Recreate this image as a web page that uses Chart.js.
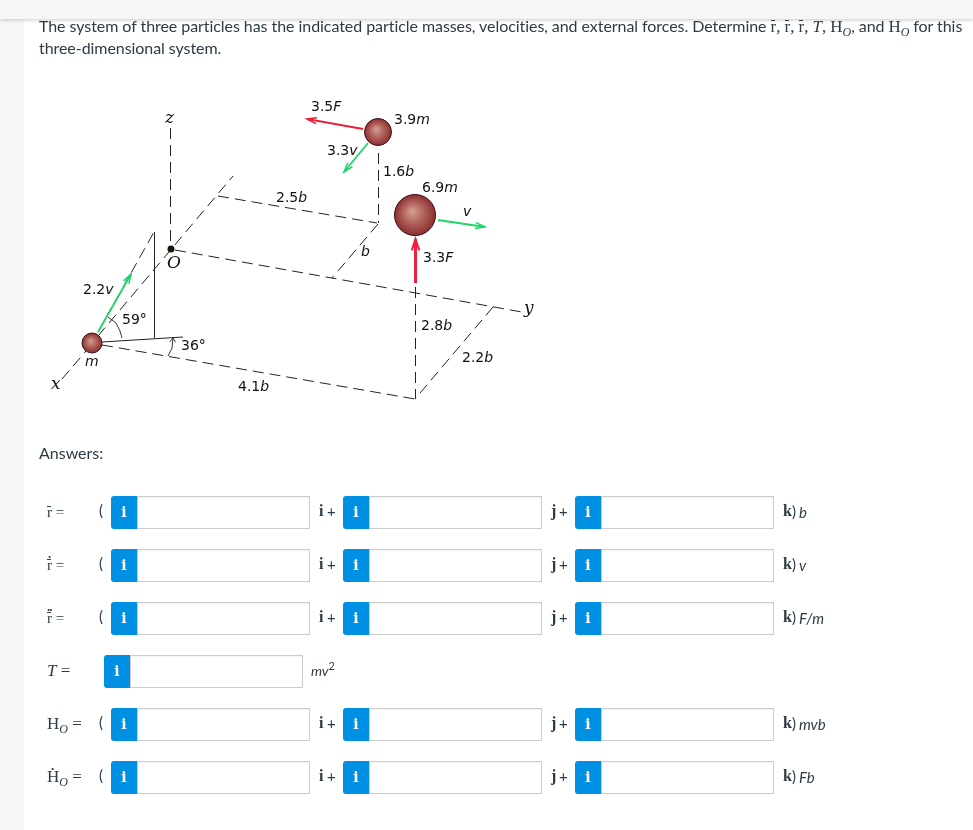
<!DOCTYPE html>
<html>
<head>
<meta charset="utf-8">
<title>Three particle system</title>
<script src="https://cdn.jsdelivr.net/npm/chart.js@4/dist/chart.umd.min.js"></script>
<style>
html, body { margin: 0; padding: 0; background: #fff; }
body { position: relative; width: 973px; height: 830px; overflow: hidden; font-family: Lato, sans-serif; color: #2d3b45; }
#strip { position: absolute; left: 0; top: 0; width: 24px; height: 830px; background: #f8f8f8; }
#topbar { position: absolute; left: 0; top: 0; width: 973px; height: 19px; background: #f6f6f6; box-shadow: 0 1px 4px rgba(0,0,0,.22); }
#diagram { position: absolute; left: 0; top: 0; }
.t { position: absolute; white-space: nowrap; }
#q1 { left: 39px; top: 15px; font-size: 16px; line-height: 22px; letter-spacing: -0.06px; }
#q2 { left: 39px; top: 37px; font-size: 16px; line-height: 22px; letter-spacing: -0.06px; }
.m { font-family: "Liberation Serif", serif; font-size: 17px; }
.i { font-style: italic; }
sub { font-size: 12px; line-height: 0; font-style: italic; font-family: "Liberation Serif", serif; }
.o { position: relative; display: inline-block; }
.o::before { content: ""; position: absolute; left: 0; right: 1px; top: 4px; border-top: 1px solid #2d3b45; }
.d1::after, .d2::after { position: absolute; left: 0; font-size: 13px; font-weight: bold; line-height: 10px; }
.d1::after { content: "."; left: 1px; top: -6px; }
.d2::after { content: ".."; letter-spacing: -1px; top: -6px; }
.dh { position: relative; display: inline-block; }
.dh::after { content: "."; position: absolute; left: 4px; top: -6px; font-size: 13px; font-weight: bold; line-height: 10px; }
.btn { position: absolute; width: 26px; height: 33px; background: #0090e3; border-radius: 3px 0 0 3px; color: #fff; font: bold 14px/33px "DejaVu Serif", serif; text-align: center; }
.box { position: absolute; height: 31px; box-sizing: content-box; border: 1px solid #ccc; background: #fff; box-shadow: inset 0 1px 2px rgba(0,0,0,.06); }
.unit { font-family: "Liberation Serif", serif; font-size: 16px; }
</style>
</head>
<body>
<div id="strip"></div>
<canvas id="diagram" width="973" height="830"></canvas>
<div id="topbar"></div>
<div class="t" id="q1">The system of three particles has the indicated particle masses, velocities, and external forces. Determine <span class="m"><span class="o">r</span>, <span class="o">r</span>, <span class="o">r</span>, <span class="i">T</span>, H<sub>O</sub></span>, and <span class="m">H<sub>O</sub></span> for this</div>
<div class="t" id="q2">three-dimensional system.</div>
<div class="t" style="left:39px;top:443px;font-size:16px;line-height:20px">Answers:</div>
<div id="form"></div>
<script>
// diagram lines, in picture coordinates
const dashedLines = [
	[[170.5, 128], [170.5, 245]],
	[[62, 379], [86, 351]],
	[[98, 336], [233, 176]],
	[[98, 332], [154, 232]],
	[[102, 345], [415, 399]],
	[[175, 250], [522, 312]],
	[[218, 196], [377, 223]],
	[[378.5, 153], [378.5, 223]],
	[[378, 224], [332, 278]],
	[[415.5, 287], [415.5, 399]],
	[[493, 307], [415, 399]]
];
const solidLines = [
	[[154.5, 232], [154.5, 338]],
	[[102, 342], [183, 337]]
];
const angleArcs = [
	[[108, 317], [116, 323], [120, 331], [122, 338]],
	[[168, 356], [172, 348], [173, 338]]
];
const redArrows = [[[363, 129], [307, 119]]];
const thickRedArrows = [[[415.5, 283], [415.5, 239]]];
const greenArrows = [
	[[98, 332], [131, 274]],
	[[368, 143], [344, 172]],
	[[438, 220], [485, 227]]
];
const sphereX = [92, 378, 415];
const sphereY = [343, 132, 215];
const sphereSize = [10, 13.5, 20.5];
const originPoint = [{ x: 171, y: 249 }];

// diagram text: plain part, italic part, x, y
const numberLabels = [
	['3.5', 'F', 311, 107], ['3.9', 'm', 394, 120], ['3.3', 'v', 327, 151],
	['1.6', 'b', 383, 172], ['6.9', 'm', 422, 188], ['', 'v', 463, 212],
	['3.3', 'F', 423, 258], ['2.5', 'b', 276, 198], ['', 'b', 361, 252],
	['2.8', 'b', 421, 326], ['2.2', 'b', 462, 358], ['4.1', 'b', 238, 387],
	['2.2', 'v', 83, 290], ['59°', '', 122, 320], ['36°', '', 181, 346], ['', 'm', 85, 362]
];
const axisLabels = [['x', 51, 385], ['y', 524, 309], ['z', 165, 119], ['O', 167, 264]];

// answer rows
const rowTops = [496, 549, 602, 708, 761];
const rowUnits = ['b', 'v', 'F/m', 'mvb', 'Fb'];
const rowNames = [
	'<span class="o">r</span> =',
	'<span class="o d1">r</span> =',
	'<span class="o d2">r</span> =',
	'H<sub>O</sub> =',
	'<span class="dh">H</span><sub>O</sub> ='
];
const rowNameSize = [15, 15, 15, 17, 17];
const columnLeft = [111, 343, 575];
const columnAfter = ['i', 'j', 'k'];
const columnSign = ['+', '+', ')'];

function gapped(lines) {
	const pts = [];
	lines.forEach(function(line) {
		line.forEach(function(p) { pts.push({ x: p[0], y: p[1] }); });
		pts.push({ x: NaN, y: NaN });
	});
	return pts;
}

// two barbs at the end of each arrow
function barbs(lines, len, spread) {
	const out = [];
	lines.forEach(function(line) {
		const a = line[0], b = line[1];
		const ang = Math.atan2(a[1] - b[1], a[0] - b[0]);
		out.push([
			[b[0] + len * Math.cos(ang + spread), b[1] + len * Math.sin(ang + spread)],
			b,
			[b[0] + len * Math.cos(ang - spread), b[1] + len * Math.sin(ang - spread)]
		]);
	});
	return out;
}

function lineSet(lines, color, width, dash) {
	return {
		data: gapped(lines),
		showLine: true,
		spanGaps: false,
		borderColor: color,
		borderWidth: width,
		borderDash: dash || [],
		pointRadius: 0,
		tension: 0
	};
}

const labelPlugin = {
	id: 'labelPlugin',
	afterDraw: function(chart) {
		const c = chart.ctx, sx = chart.scales.x, sy = chart.scales.y;
		c.save();
		c.fillStyle = '#111';
		c.textBaseline = 'middle';
		c.textAlign = 'left';
		numberLabels.forEach(function(l) {
			const px = sx.getPixelForValue(l[2]), py = sy.getPixelForValue(l[3]);
			c.font = '14px "DejaVu Sans"';
			c.fillText(l[0], px, py);
			const w = c.measureText(l[0]).width;
			c.font = 'italic 14px "DejaVu Sans"';
			c.fillText(l[1], px + w, py);
		});
		c.font = 'italic 17px "DejaVu Serif"';
		axisLabels.forEach(function(l) {
			c.fillText(l[0], sx.getPixelForValue(l[1]), sy.getPixelForValue(l[2]));
		});
		c.restore();
	}
};

var ctx = document.getElementById('diagram').getContext('2d');
var diagram = new Chart(ctx, {
	type: 'scatter',
	data: {
		datasets: [
			{
				data: sphereX.map(function(x, i) { return { x: x, y: sphereY[i] }; }),
				pointRadius: sphereSize,
				pointHoverRadius: sphereSize,
				borderColor: '#3a1212',
				borderWidth: 1,
				backgroundColor: function(c) {
					const el = c.element;
					if (!el || !isFinite(el.x)) return '#a04a48';
					const r = sphereSize[c.dataIndex];
					const g = c.chart.ctx.createRadialGradient(el.x - r * 0.15, el.y - r * 0.2, 0, el.x, el.y, r);
					g.addColorStop(0, '#d3a195');
					g.addColorStop(0.55, '#ae5e58');
					g.addColorStop(1, '#8a2f30');
					return g;
				}
			},
			{ data: originPoint, pointRadius: 3.5, backgroundColor: '#1a1208', borderWidth: 0 },
			lineSet(redArrows, '#e8203a', 1.8),
			lineSet(barbs(redArrows, 10, 0.3), '#e8203a', 1.6),
			lineSet(thickRedArrows, '#f01f3c', 3),
			lineSet(barbs(thickRedArrows, 12, 0.32), '#f01f3c', 2),
			lineSet(greenArrows, '#1ed566', 1.8),
			lineSet(barbs(greenArrows, 10, 0.3), '#1ed566', 1.5),
			lineSet(angleArcs, '#222', 0.9),
			lineSet(barbs([[[172, 350], [173, 338]]], 5, 0.6), '#222', 0.9),
			lineSet(solidLines, '#222', 1),
			lineSet(dashedLines, '#222', 1, [11, 6])
		]
	},
	options: {
		responsive: false,
		animation: false,
		events: [],
		layout: { padding: 0, autoPadding: false },
		plugins: { legend: { display: false }, tooltip: { enabled: false } },
		scales: {
			x: { type: 'linear', min: 0, max: 973, display: false },
			y: { type: 'linear', min: 0, max: 830, reverse: true, display: false }
		}
	},
	plugins: [labelPlugin]
});

// answer form
var form = document.getElementById('form');
function add(cls, left, top, html, style) {
	var d = document.createElement('div');
	d.className = cls;
	d.style.left = left + 'px';
	d.style.top = top + 'px';
	if (style) d.style.cssText += style;
	if (html) d.innerHTML = html;
	form.appendChild(d);
}
function field(left, top) {
	add('btn', left, top, 'i');
	add('box', left + 26, top, '', 'width:171px');
}
rowTops.forEach(function(top, r) {
	add('t m', 47, top + 6, rowNames[r], 'font-size:' + rowNameSize[r] + 'px;line-height:20px');
	add('t', 99, top + 5, '(', 'font-size:15px');
	columnLeft.forEach(function(left, c) {
		field(left, top);
		add('t unit', left + 208, top + 6, '<b>' + columnAfter[c] + '</b>');
		add('t', left + (c == 2 ? 217 : 216), top + 6, columnSign[c], 'font-size:15px');
	});
	add('t', 799, top + 7, '<span class="i">' + rowUnits[r] + '</span>', 'font-size:15px;line-height:18px');
});
add('t m', 47, 661, '<span class="i">T</span> =', 'font-size:17px;line-height:20px');
field(104, 655);
add('t', 311, 661, '<span class="i">mv</span><sup style="font-size:11px;line-height:0">2</sup>', 'font-size:14px;line-height:20px');
</script>
</body>
</html>
